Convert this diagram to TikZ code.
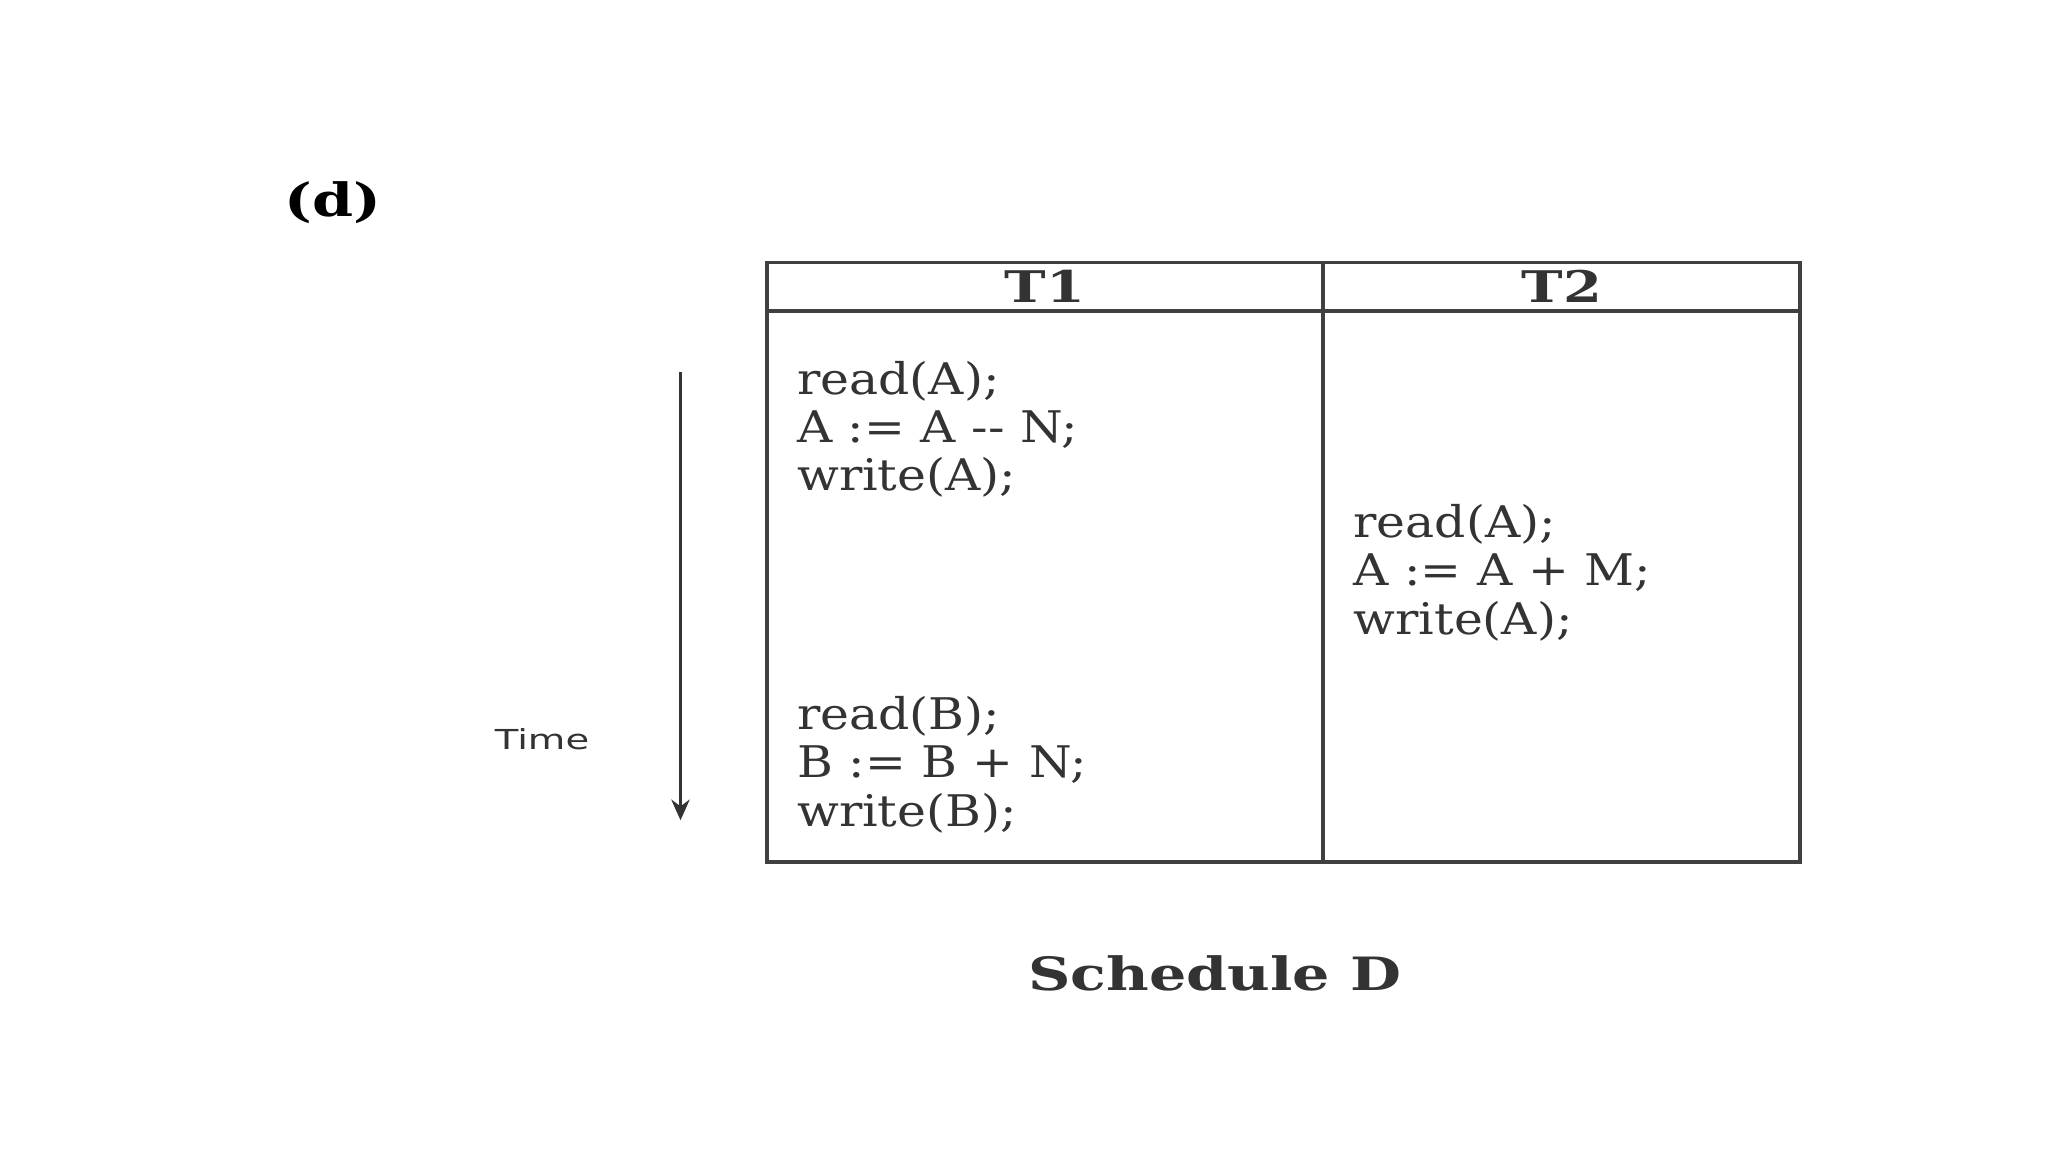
\documentclass[tikz,border=0pt]{standalone}
\usepackage{fontspec}
\usetikzlibrary{arrows.meta}
\setmainfont{DejaVu Serif}
\newfontfamily\codefont[FakeStretch=1.12]{DejaVu Serif}
\newfontfamily\headfont[FakeStretch=1.28]{DejaVu Serif}
\newfontfamily\timefont[FakeStretch=1.4]{DejaVu Sans}
\begin{document}
\begin{tikzpicture}[x=0.02cm,y=-0.02cm,
  grid/.style={draw=black!75,line width=1.6pt},
  code/.style={anchor=north west,align=left,font=\codefont\fontsize{19}{21}\selectfont,inner sep=0pt,text=black!80},
  head/.style={font=\headfont\bfseries\fontsize{19}{21}\selectfont,text=black!80},
  arr/.style={draw=black!80,line width=1.3pt,-{Stealth[length=9pt,width=8pt]}}]
\useasboundingbox (0,0) rectangle (1568,882);
\node[font=\headfont\bfseries\fontsize{20}{22}\selectfont] (d) at (255,155) {(d)};
\draw[grid] (587,201) rectangle (1378,660);
\draw[grid] (587,238) -- (1378,238);
\draw[grid] (1013,201) -- (1013,660);
\node[head] (t1) at (800,219) {T1};
\node[head] (t2) at (1196,219) {T2};
\node[code] (c1) at (610,276) {read(A);\\A := A -- N;\\write(A);};
\node[code] (c2) at (1036,386) {read(A);\\A := A + M;\\write(A);};
\node[code] (c3) at (610,533) {read(B);\\B := B + N;\\write(B);};
\coordinate (ts) at (521,285);
\coordinate (te) at (521,628);
\draw[arr] (ts) -- (te);
\node[font=\timefont\fontsize{12}{14}\selectfont,text=black!80] (time) at (415,566) {Time};
\node[font=\headfont\bfseries\fontsize{20}{22}\selectfont,text=black!80] (sd) at (930,745) {Schedule D};
\end{tikzpicture}
\end{document}
